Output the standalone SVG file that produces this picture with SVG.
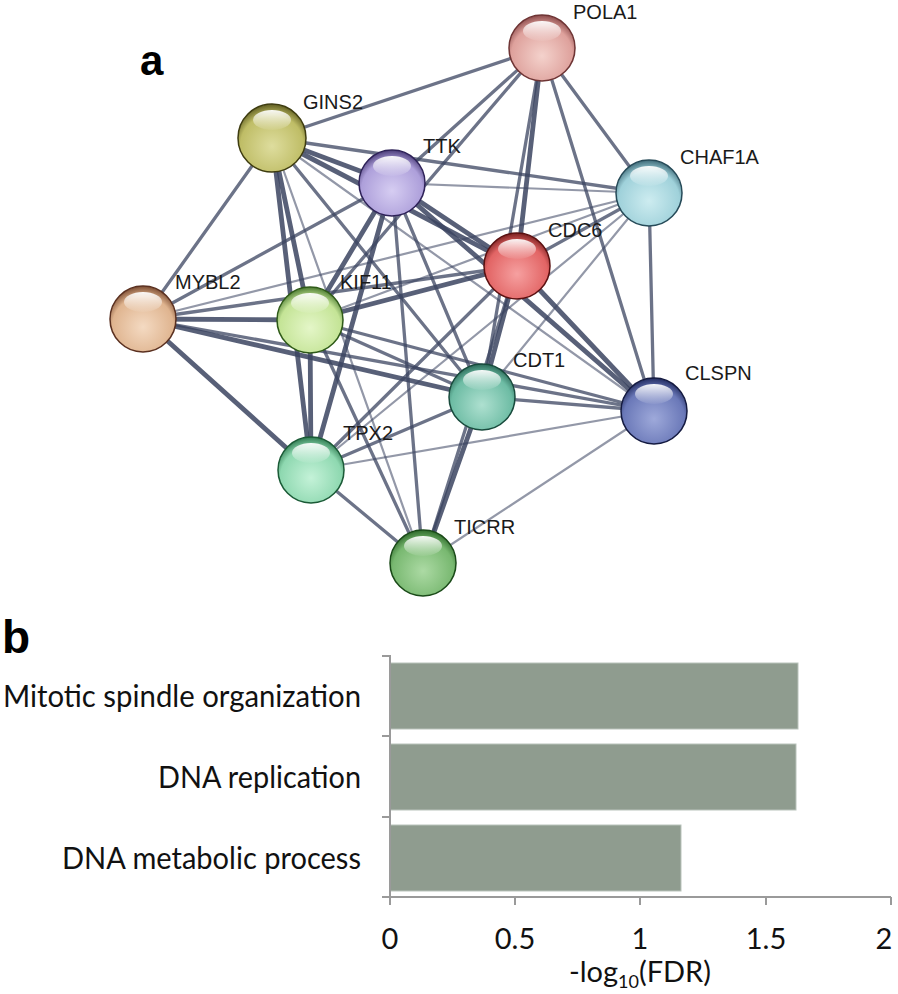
<svg xmlns="http://www.w3.org/2000/svg" width="898" height="994" viewBox="0 0 898 994">
<style>
.e{stroke:#3b4460;fill:none;stroke-linecap:round}
.t1{stroke-width:2.2;stroke-opacity:.55}
.t2{stroke-width:3.3;stroke-opacity:.75}
.t3{stroke-width:4.8;stroke-opacity:.85}
.lbl{font-family:"Liberation Sans",Arial,sans-serif;font-size:20px;fill:#1a1a1a}
.big{font-family:"Liberation Sans",Arial,sans-serif;font-weight:bold;fill:#000}
.cat{font-family:Lato,"Open Sans",sans-serif;font-size:31px;fill:#111;text-anchor:end}
.tick{font-family:Lato,"Open Sans",sans-serif;font-size:29px;fill:#111;text-anchor:middle}
.ax{stroke:#9a9a9a;stroke-width:2;fill:none}
.bar{fill:#8f9c8f;stroke:#b9c3bb;stroke-width:1}
.hl{fill:url(#hi)}
</style>
<defs>
<linearGradient id="hi" x1="0" y1="0" x2="0" y2="1">
<stop offset="0" stop-color="#fff" stop-opacity=".95"/>
<stop offset="1" stop-color="#fff" stop-opacity=".05"/>
</linearGradient>
<radialGradient id="gP" cx=".5" cy=".62" r=".62"><stop offset="0" stop-color="#f4d2cc"/><stop offset=".75" stop-color="#dea19c"/><stop offset="1" stop-color="#8b4a4a"/></radialGradient>
<radialGradient id="gG" cx=".5" cy=".62" r=".62"><stop offset="0" stop-color="#dedd9e"/><stop offset=".75" stop-color="#bfbd66"/><stop offset="1" stop-color="#5e5c20"/></radialGradient>
<radialGradient id="gT" cx=".5" cy=".62" r=".62"><stop offset="0" stop-color="#d6cdf2"/><stop offset=".75" stop-color="#ad9fda"/><stop offset="1" stop-color="#4a3c78"/></radialGradient>
<radialGradient id="gH" cx=".5" cy=".62" r=".62"><stop offset="0" stop-color="#cdecf0"/><stop offset=".75" stop-color="#9fd1da"/><stop offset="1" stop-color="#3e6a78"/></radialGradient>
<radialGradient id="gC" cx=".5" cy=".62" r=".62"><stop offset="0" stop-color="#f6a0a0"/><stop offset=".75" stop-color="#e26464"/><stop offset="1" stop-color="#7a2020"/></radialGradient>
<radialGradient id="gM" cx=".5" cy=".62" r=".62"><stop offset="0" stop-color="#f4dac2"/><stop offset=".75" stop-color="#dfb48f"/><stop offset="1" stop-color="#7a4a30"/></radialGradient>
<radialGradient id="gK" cx=".5" cy=".62" r=".62"><stop offset="0" stop-color="#e4f6c8"/><stop offset=".75" stop-color="#c4e496"/><stop offset="1" stop-color="#4a7a30"/></radialGradient>
<radialGradient id="gD" cx=".5" cy=".62" r=".62"><stop offset="0" stop-color="#aee0d0"/><stop offset=".75" stop-color="#6dbca4"/><stop offset="1" stop-color="#2a6a58"/></radialGradient>
<radialGradient id="gL" cx=".5" cy=".62" r=".62"><stop offset="0" stop-color="#9ea9da"/><stop offset=".75" stop-color="#6a78b8"/><stop offset="1" stop-color="#222c60"/></radialGradient>
<radialGradient id="gX" cx=".5" cy=".62" r=".62"><stop offset="0" stop-color="#c4f2d8"/><stop offset=".75" stop-color="#8ed8b0"/><stop offset="1" stop-color="#2e7a50"/></radialGradient>
<radialGradient id="gR" cx=".5" cy=".62" r=".62"><stop offset="0" stop-color="#acdaa4"/><stop offset=".75" stop-color="#78b870"/><stop offset="1" stop-color="#2e6a2a"/></radialGradient>
</defs>
<rect width="898" height="994" fill="#fff"/>
<text class="big" x="140" y="75" font-size="42">a</text>
<g id="connectors">
<line class="e t2" x1="272" y1="138" x2="542" y2="48"/>
<line class="e t3" x1="272" y1="138" x2="392" y2="183"/>
<line class="e t2" x1="272" y1="138" x2="649" y2="193"/>
<line class="e t3" x1="272" y1="138" x2="517" y2="266"/>
<line class="e t2" x1="272" y1="138" x2="143" y2="319"/>
<line class="e t3" x1="272" y1="138" x2="310" y2="320"/>
<line class="e t3" x1="272" y1="138" x2="311" y2="470"/>
<line class="e t2" x1="272" y1="138" x2="482" y2="397"/>
<line class="e t1" x1="272" y1="138" x2="423" y2="563"/>
<line class="e t1" x1="272" y1="138" x2="654" y2="411"/>
<line class="e t2" x1="392" y1="183" x2="542" y2="48"/>
<line class="e t1" x1="392" y1="183" x2="649" y2="193"/>
<line class="e t3" x1="392" y1="183" x2="517" y2="266"/>
<line class="e t2" x1="392" y1="183" x2="143" y2="319"/>
<line class="e t3" x1="392" y1="183" x2="310" y2="320"/>
<line class="e t3" x1="392" y1="183" x2="311" y2="470"/>
<line class="e t2" x1="392" y1="183" x2="482" y2="397"/>
<line class="e t3" x1="392" y1="183" x2="654" y2="411"/>
<line class="e t2" x1="392" y1="183" x2="423" y2="563"/>
<line class="e t3" x1="542" y1="48" x2="517" y2="266"/>
<line class="e t2" x1="542" y1="48" x2="482" y2="397"/>
<line class="e t2" x1="542" y1="48" x2="649" y2="193"/>
<line class="e t2" x1="542" y1="48" x2="654" y2="411"/>
<line class="e t2" x1="542" y1="48" x2="310" y2="320"/>
<line class="e t2" x1="517" y1="266" x2="649" y2="193"/>
<line class="e t2" x1="517" y1="266" x2="143" y2="319"/>
<line class="e t3" x1="517" y1="266" x2="310" y2="320"/>
<line class="e t3" x1="517" y1="266" x2="482" y2="397"/>
<line class="e t3" x1="517" y1="266" x2="654" y2="411"/>
<line class="e t2" x1="517" y1="266" x2="311" y2="470"/>
<line class="e t2" x1="517" y1="266" x2="423" y2="563"/>
<line class="e t1" x1="649" y1="193" x2="143" y2="319"/>
<line class="e t1" x1="649" y1="193" x2="310" y2="320"/>
<line class="e t1" x1="649" y1="193" x2="482" y2="397"/>
<line class="e t2" x1="649" y1="193" x2="654" y2="411"/>
<line class="e t1" x1="649" y1="193" x2="311" y2="470"/>
<line class="e t3" x1="143" y1="319" x2="310" y2="320"/>
<line class="e t3" x1="143" y1="319" x2="482" y2="397"/>
<line class="e t2" x1="143" y1="319" x2="654" y2="411"/>
<line class="e t3" x1="143" y1="319" x2="311" y2="470"/>
<line class="e t2" x1="310" y1="320" x2="482" y2="397"/>
<line class="e t2" x1="310" y1="320" x2="654" y2="411"/>
<line class="e t3" x1="310" y1="320" x2="311" y2="470"/>
<line class="e t2" x1="310" y1="320" x2="423" y2="563"/>
<line class="e t2" x1="482" y1="397" x2="654" y2="411"/>
<line class="e t2" x1="482" y1="397" x2="311" y2="470"/>
<line class="e t3" x1="482" y1="397" x2="423" y2="563"/>
<line class="e t1" x1="654" y1="411" x2="311" y2="470"/>
<line class="e t1" x1="654" y1="411" x2="423" y2="563"/>
<line class="e t2" x1="311" y1="470" x2="423" y2="563"/>
</g>
<g id="POLA1"><circle cx="542" cy="48" r="33" fill="url(#gP)" stroke="#6e3434" stroke-width="1.5"/><ellipse class="hl" cx="542" cy="31" rx="19" ry="10"/><text class="lbl" x="573" y="19">POLA1</text></g>
<g id="GINS2"><circle cx="272" cy="138" r="34" fill="url(#gG)" stroke="#3e3c10" stroke-width="1.5"/><ellipse class="hl" cx="272" cy="120" rx="19" ry="10"/><text class="lbl" x="303" y="109">GINS2</text></g>
<g id="TTK"><circle cx="392" cy="183" r="33" fill="url(#gT)" stroke="#2e2258" stroke-width="1.5"/><ellipse class="hl" cx="392" cy="166" rx="19" ry="10"/><text class="lbl" x="423" y="153">TTK</text></g>
<g id="CHAF1A"><circle cx="649" cy="193" r="33" fill="url(#gH)" stroke="#264a58" stroke-width="1.5"/><ellipse class="hl" cx="649" cy="176" rx="19" ry="10"/><text class="lbl" x="680" y="164">CHAF1A</text></g>
<g id="CDC6"><circle cx="517" cy="266" r="33" fill="url(#gC)" stroke="#5a1010" stroke-width="1.5"/><ellipse class="hl" cx="517" cy="249" rx="19" ry="10"/><text class="lbl" x="548" y="237">CDC6</text></g>
<g id="MYBL2"><circle cx="143" cy="319" r="33" fill="url(#gM)" stroke="#5a3020" stroke-width="1.5"/><ellipse class="hl" cx="143" cy="302" rx="19" ry="10"/><text class="lbl" x="175" y="289">MYBL2</text></g>
<g id="KIF11"><circle cx="310" cy="320" r="33" fill="url(#gK)" stroke="#2e5a18" stroke-width="1.5"/><ellipse class="hl" cx="310" cy="303" rx="19" ry="10"/><text class="lbl" x="340" y="289">KIF11</text></g>
<g id="CDT1"><circle cx="482" cy="397" r="33" fill="url(#gD)" stroke="#184a3c" stroke-width="1.5"/><ellipse class="hl" cx="482" cy="380" rx="19" ry="10"/><text class="lbl" x="513" y="367">CDT1</text></g>
<g id="CLSPN"><circle cx="654" cy="411" r="33" fill="url(#gL)" stroke="#141a40" stroke-width="1.5"/><ellipse class="hl" cx="654" cy="394" rx="19" ry="10"/><text class="lbl" x="685" y="380">CLSPN</text></g>
<g id="TPX2"><circle cx="311" cy="470" r="33" fill="url(#gX)" stroke="#1a5a36" stroke-width="1.5"/><ellipse class="hl" cx="311" cy="453" rx="19" ry="10"/><text class="lbl" x="343" y="440">TPX2</text></g>
<g id="TICRR"><circle cx="423" cy="563" r="33" fill="url(#gR)" stroke="#1a4a18" stroke-width="1.5"/><ellipse class="hl" cx="423" cy="546" rx="19" ry="10"/><text class="lbl" x="454" y="534">TICRR</text></g>
<g id="chart">
<text class="big" x="2" y="653" font-size="46">b</text>
<rect class="bar" x="390" y="663" width="408" height="66"/>
<rect class="bar" x="390" y="744" width="406" height="66"/>
<rect class="bar" x="390" y="825" width="291" height="66"/>
<path class="ax" d="M390 655V897M382 656H390M382 736H390M382 817H390M382 897H891M390 897V905M515 897V905M640 897V905M766 897V905M891 897V905"/>
<text class="cat" x="361" y="707" textLength="358" lengthAdjust="spacingAndGlyphs">Mitotic spindle organization</text>
<text class="cat" x="361" y="788" textLength="203" lengthAdjust="spacingAndGlyphs">DNA replication</text>
<text class="cat" x="361" y="869" textLength="299" lengthAdjust="spacingAndGlyphs">DNA metabolic process</text>
<text class="tick" x="390" y="949">0</text>
<text class="tick" x="515" y="949">0.5</text>
<text class="tick" x="640" y="949">1</text>
<text class="tick" x="766" y="949">1.5</text>
<text class="tick" x="884" y="949">2</text>
<text class="tick" x="640" y="982" font-size="27">-log<tspan font-size="18" dy="6">10</tspan><tspan dy="-6">(FDR)</tspan></text>
</g>
</svg>
